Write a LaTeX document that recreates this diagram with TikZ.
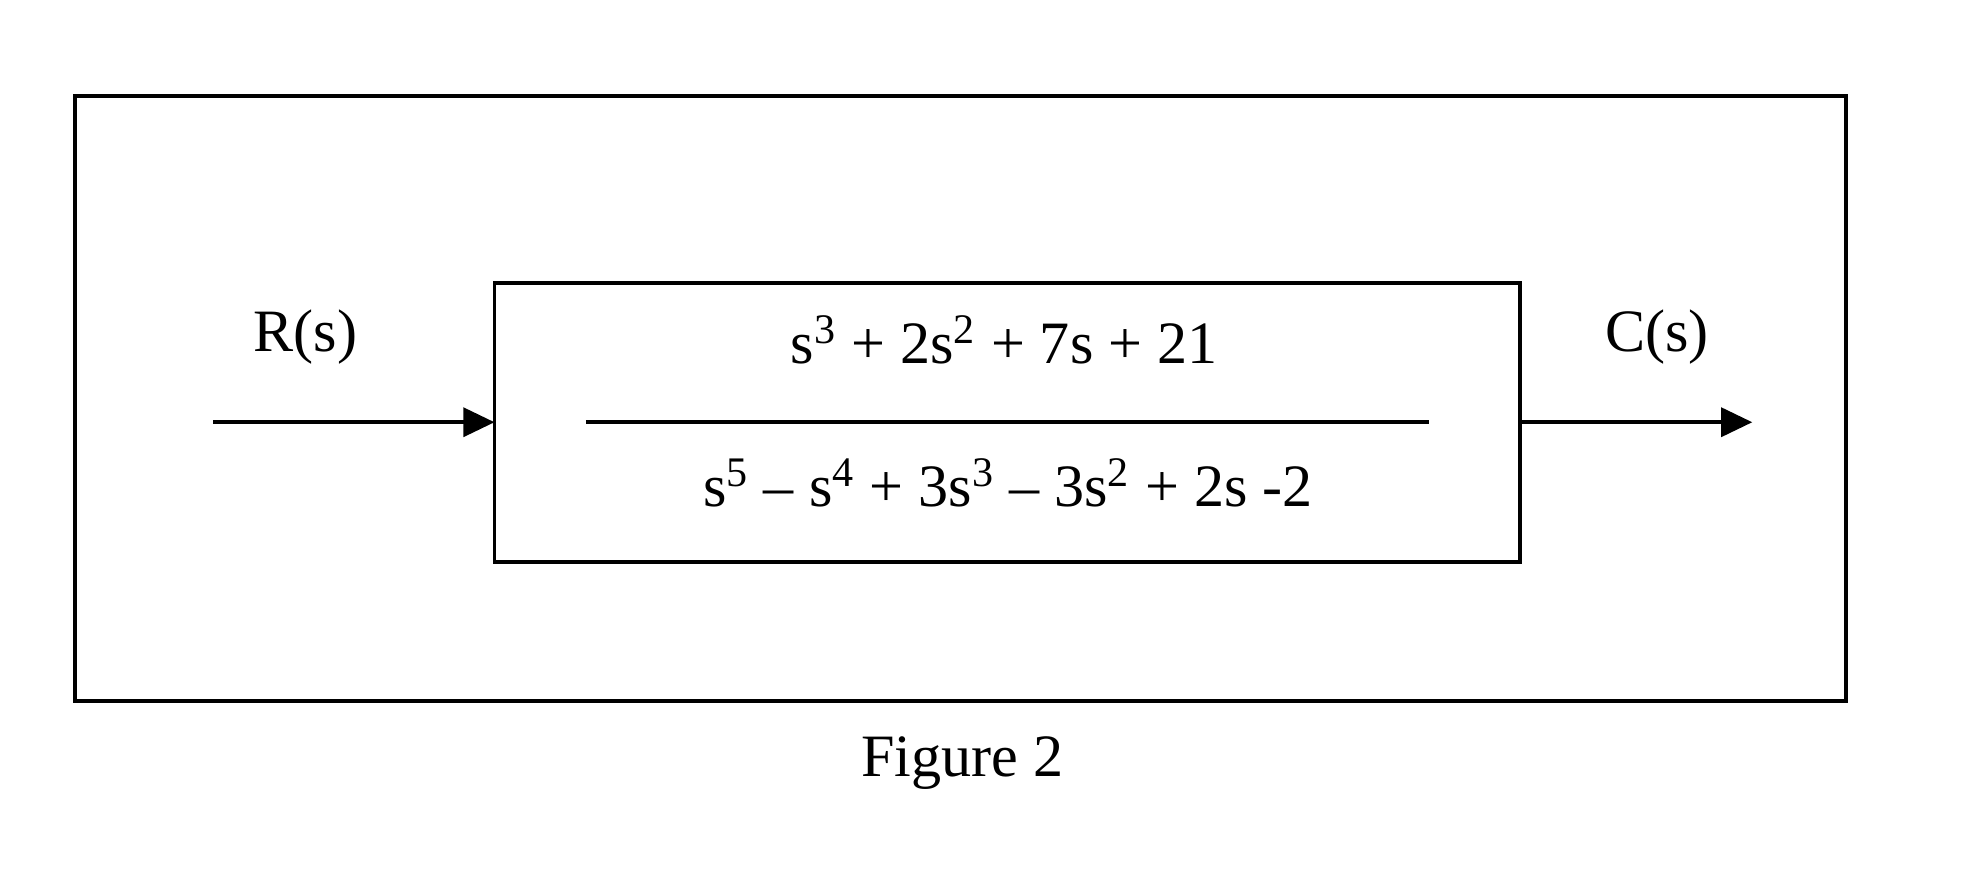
\documentclass[tikz,border=0pt]{standalone}
\usepackage{fontspec}
\setmainfont{Liberation Serif}
\usetikzlibrary{arrows.meta}
\begin{document}
\begin{tikzpicture}[x=0.02cm,y=-0.02cm,
  box/.style={draw,line width=1.7pt},
  lbl/.style={font=\fontsize{27}{30}\selectfont,inner sep=0pt},
  arr/.style={line width=1.7pt,-{Triangle[length=14pt,width=13pt]}}]
\useasboundingbox (0,0) rectangle (1560,694);
\draw[box] (59,76) rectangle (1456,553);
\draw[box] (390,223) rectangle (1199,443);
\coordinate (inl) at (390,333);
\coordinate (inr) at (1199,333);
\coordinate (src) at (168,333);
\coordinate (dst) at (1382,333);
\coordinate (fl) at (462,333);
\coordinate (fr) at (1127,333);
\draw[line width=1.7pt] (fl) -- (fr);
\draw[arr] (src) -- (inl);
\draw[arr] (inr) -- (dst);
\node[lbl] (r) at (241,266) {R(s)};
\node[lbl] (c) at (1307,266) {C(s)};
\node[lbl] (num) at (792,268) {s\textsuperscript{3} + 2s\textsuperscript{2} + 7s + 21};
\node[lbl] (den) at (795,381) {s\textsuperscript{5} – s\textsuperscript{4} + 3s\textsuperscript{3} – 3s\textsuperscript{2} + 2s -2};
\node[lbl] (fig) at (759,602) {Figure 2};
\end{tikzpicture}
\end{document}
